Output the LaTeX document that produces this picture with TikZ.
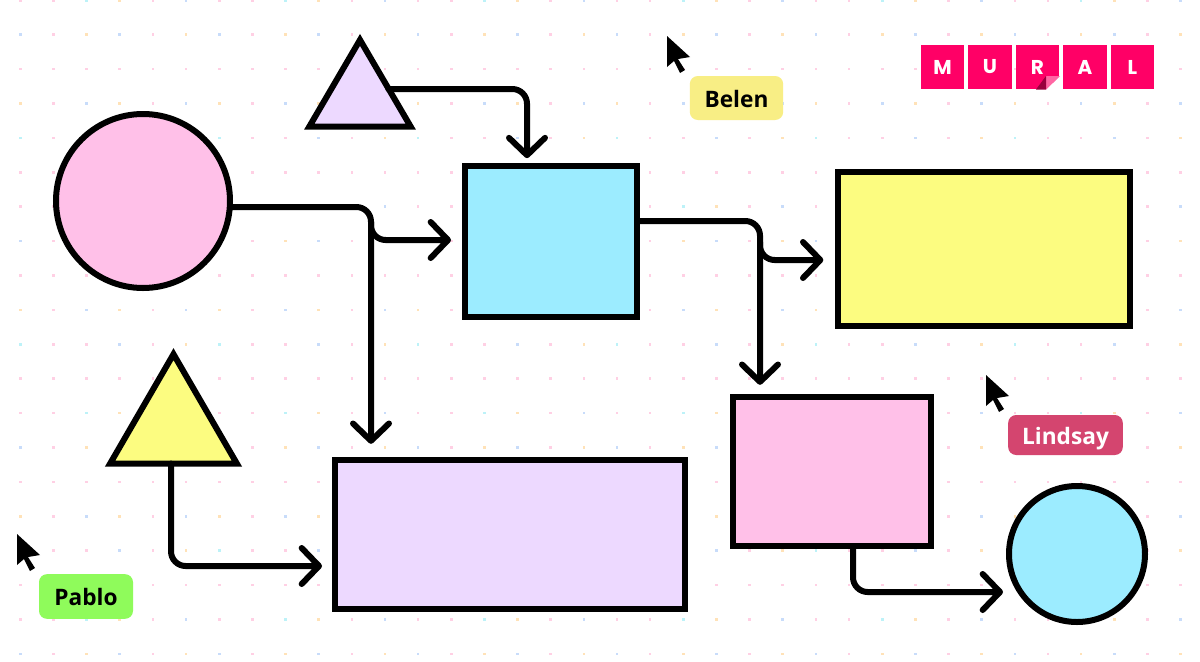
\documentclass[tikz,border=0pt]{standalone}
\usepackage{fontspec}
\setmainfont{Open Sans}
\newfontfamily\logofont{Poppins}
\usetikzlibrary{arrows.meta,shapes.geometric,calc}
\definecolor{cpink}{HTML}{FFC0E8}
\definecolor{cblue}{HTML}{9CECFF}
\definecolor{cyell}{HTML}{FCFC80}
\definecolor{cpurp}{HTML}{EDD9FF}
\definecolor{cmural}{HTML}{FF0066}
\definecolor{cbelen}{HTML}{F8EE85}
\definecolor{clind}{HTML}{D4456F}
\definecolor{cpablo}{HTML}{8FFB5B}
\definecolor{dota}{HTML}{FFD0E4}
\definecolor{dotb}{HTML}{BDF2F8}
\definecolor{dotc}{HTML}{FFE2B8}
\definecolor{dotd}{HTML}{C8DCFA}
\tikzset{
  x=0.75pt,y=-0.75pt,
  shapebox/.style={draw=black,line width=4.5pt,minimum width=#1,inner sep=0pt,outer sep=0pt,line join=miter},
  ring/.style={circle,draw=black,line width=4.5pt,inner sep=0pt,outer sep=0pt,minimum size=#1},
  tri/.style={isosceles triangle,isosceles triangle stretches,shape border rotate=90,draw=black,line width=4.5pt,inner sep=0pt,outer sep=0pt,line join=miter},
  link/.style={draw=black,line width=4.5pt,rounded corners=11pt,line cap=round},
  tip/.style={-{Straight Barb[length=13pt,width=27pt,line width=4.5pt,round]}},
  tag/.style={rounded corners=6pt,inner sep=0pt,outer sep=0pt,text height=14pt,text depth=0pt,font=\fontsize{17}{17}\selectfont\bfseries},
  tile/.style={fill=cmural,inner sep=0pt,outer sep=0pt,minimum size=32.4pt,text=white,font=\logofont\fontsize{15}{15}\selectfont\bfseries},
  pics/cursor/.style={code={\fill[black,line join=round] (0,0)--(23,21)--(11,23)--(18,34)--(13,37)--(7,25)--(0,31)--cycle;}}
}
\begin{document}
\begin{tikzpicture}
\useasboundingbox (0,0) rectangle (1200,661);
\fill[white] (0,0) rectangle (1200,661);
% dot grid
\foreach \i in {0,...,35}{\foreach \j in {0,...,19}{
  \pgfmathtruncatemacro{\m}{mod(\i*7+\j*11+\i*\j,6)}
  \ifcase\m\def\dc{dota}\or\def\dc{dota}\or\def\dc{dotb}\or\def\dc{dotc}\or\def\dc{dota}\or\def\dc{dotd}\fi
  \fill[\dc] ({19+33.15*\i},{-1+34.4*\j}) rectangle ++(2.6,2.6);
}}
% shapes
\node[ring=130.5pt,fill=cpink] (c1) at (143,201) {};
\node[shapebox=129pt,minimum height=113pt,fill=cblue] (b1) at (551,241.5) {};
\node[shapebox=219pt,minimum height=115.5pt,fill=cyell] (y1) at (984,249) {};
\node[shapebox=263pt,minimum height=112pt,fill=cpurp] (p1) at (510,534.5) {};
\node[shapebox=148.5pt,minimum height=112pt,fill=cpink] (r1) at (832,471.5) {};
\node[ring=102pt,fill=cblue] (c2) at (1077,554) {};
\node[tri,minimum width=76pt,minimum height=65pt,fill=cpurp] (t1) at (360,97.5) {};
\node[tri,minimum width=95pt,minimum height=82pt,fill=cyell] (t2) at (173.5,427) {};
% bend points
\coordinate (k1) at (527,89);
\coordinate (k2) at (371,207);
\coordinate (k2a) at (371,222);
\coordinate (k2b) at (371,240);
\coordinate (k3) at (760,221);
\coordinate (k3a) at (760,242);
\coordinate (k3b) at (760,260);
\coordinate (k4) at (171,566);
\coordinate (k5) at (853,592);
% connectors
\draw[link,tip,shorten >=6pt] ($(t1.right side |- k1)+(3,0)$) -- (k1) -- (k1 |- b1.north);
\draw[link,tip,shorten >=12pt] (c1.east |- k2) -- (k2) -- (k2 |- p1.north);
\draw[link,tip,shorten >=10.5pt] (k2a) -- (k2b) -- (k2b -| b1.west);
\draw[link,tip,shorten >=9pt] (b1.east |- k3) -- (k3) -- (k3 |- r1.north);
\draw[link,tip,shorten >=11pt] (k3a) -- (k3b) -- (k3b -| y1.west);
\draw[link,tip,shorten >=9.5pt] (k4 |- t2.south) -- (k4) -- (k4 -| p1.west);
\draw[link,tip,shorten >=4.5pt] (k5 |- r1.south) -- (k5) -- (k5 -| c2.west);
% cursors
\pic at (667,36) {cursor};
\pic at (986,375) {cursor};
\pic at (17,534) {cursor};
% labels
\node[tag,fill=cbelen,minimum width=70pt,minimum height=33pt,text=black] (belen) at (736.5,98) {Belen};
\node[tag,fill=clind,minimum width=86pt,minimum height=30pt,text=white] (lindsay) at (1065.5,435) {Lindsay};
\node[tag,fill=cpablo,minimum width=70.5pt,minimum height=33.5pt,text=black] (pablo) at (86,596.5) {Pablo};
% logo
\node[tile] (lm) at (942.5,67) {M};
\node[tile] (lu) at (990,67) {U};
\node[tile] (lr) at (1037.5,67) {R};
\node[tile] (la) at (1085,67) {A};
\node[tile] (ll) at (1132.5,67) {L};
\fill[white] (1046,89.5) -- (1060,89.5) -- (1060,76) -- cycle;
\fill[cmural!60!white] (1046,89.5) -- (1060,76) -- (1046,76) -- cycle;
\fill[cmural!60!black] (1046,89.5) -- (1046,76) -- (1036,89.5) -- cycle;
\end{tikzpicture}
\end{document}
